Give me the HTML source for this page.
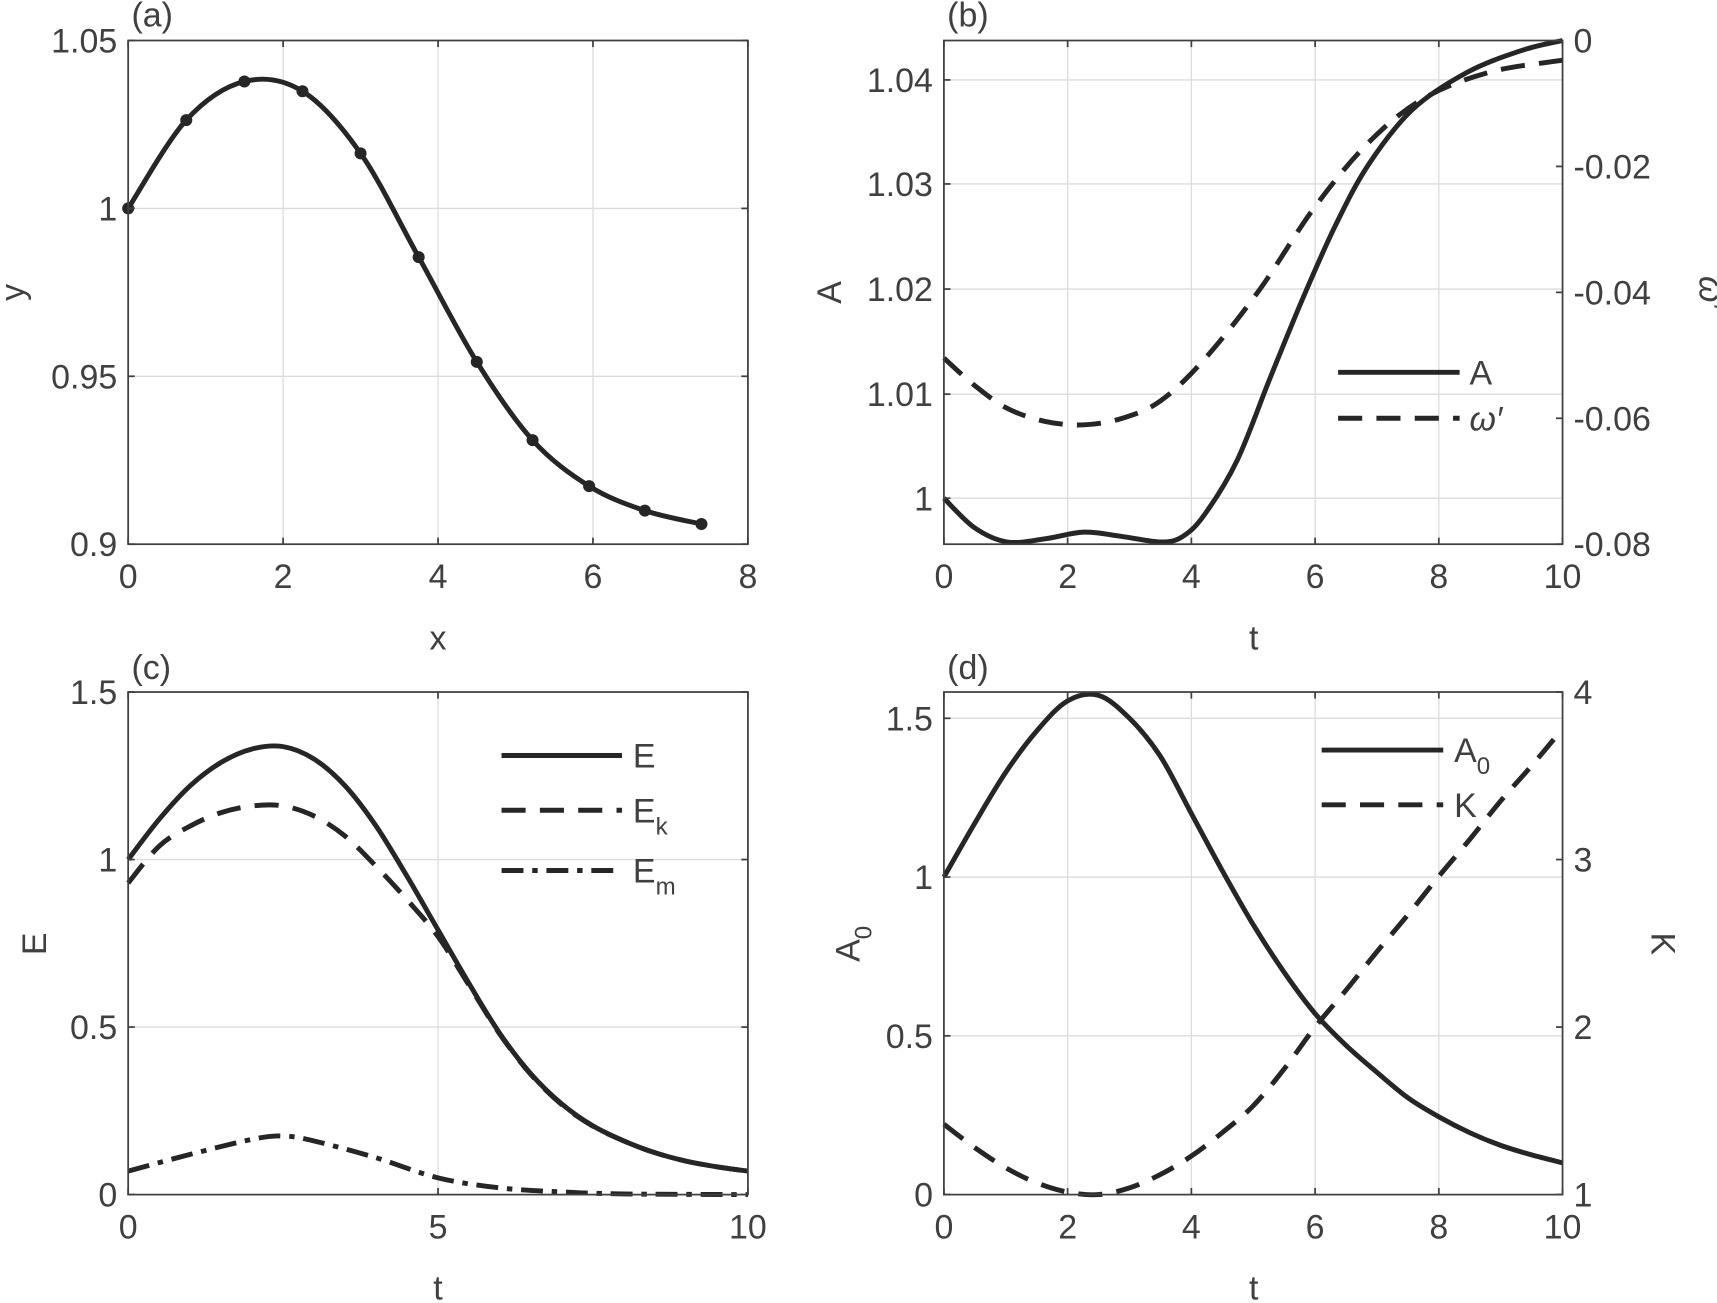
<!DOCTYPE html>
<html><head><meta charset="utf-8"><style>
html,body{margin:0;padding:0;background:#fff}
svg{display:block}
text{font-family:"Liberation Sans",sans-serif;fill:#404040}
</style></head><body>
<svg id="s" width="1717" height="1303" viewBox="0 0 1568 1190" xmlns="http://www.w3.org/2000/svg">
<g id="grid" stroke="#dcdcdc" stroke-width="1.2"></g>
<g id="curves" fill="none" stroke="#262626" stroke-width="4.5"></g>
<g id="axes" fill="none" stroke="#404040" stroke-width="1.6"></g>
<g id="txt" font-size="31"></g>
</svg>
<script>
const NS="http://www.w3.org/2000/svg";
function el(p,t,a,txt){const e=document.createElementNS(NS,t);for(const k in a)e.setAttribute(k,a[k]);if(txt!==undefined)e.textContent=txt;document.getElementById(p).appendChild(e);return e;}
function smooth(pts){let d="M"+pts[0][0]+","+pts[0][1];for(let i=0;i<pts.length-1;i++){const p0=pts[i-1]||pts[i],p1=pts[i],p2=pts[i+1],p3=pts[i+2]||p2;
const c1=[p1[0]+(p2[0]-p0[0])/6,p1[1]+(p2[1]-p0[1])/6],c2=[p2[0]-(p3[0]-p1[0])/6,p2[1]-(p3[1]-p1[1])/6];
d+=` C${c1[0]},${c1[1]} ${c2[0]},${c2[1]} ${p2[0]},${p2[1]}`;}return d;}
function txt(x,y,s,anchor,extra){const a={x:x,y:y,"text-anchor":anchor||"middle"};Object.assign(a,extra||{});return el("txt","text",a,s);}
function sub(t,s){t.appendChild(el("txt","tspan",{"font-size":"22",dy:"11"},s));}
function panel(L,R,T,B,xt,yt,yt2){
 xt.forEach(([x,l])=>{el("grid","line",{x1:x,x2:x,y1:T,y2:B});el("axes","line",{x1:x,x2:x,y1:B,y2:B-6});el("axes","line",{x1:x,x2:x,y1:T,y2:T+6});txt(x,B+40,l);});
 yt.forEach(([y,l])=>{el("grid","line",{x1:L,x2:R,y1:y,y2:y});el("axes","line",{x1:L,x2:L+6,y1:y,y2:y});if(!yt2)el("axes","line",{x1:R,x2:R-6,y1:y,y2:y});txt(L-10,y+11,l,"end");});
 if(yt2)yt2.forEach(([y,l])=>{el("axes","line",{x1:R,x2:R-6,y1:y,y2:y});txt(R+10,y+11,l,"start");});
 el("axes","rect",{x:L,y:T,width:R-L,height:B-T});
}
// Panel a
const aL=117,aR=683,aT=37,aB=497;
const ax=x=>aL+(aR-aL)*x/8, ay=y=>aB-(aB-aT)*(y-0.9)/0.15;
panel(aL,aR,aT,aB,[0,2,4,6,8].map(v=>[ax(v),v]),[[ay(1.05),"1.05"],[ay(1),"1"],[ay(0.95),"0.95"],[ay(0.9),"0.9"]]);
const apts=[[0,1.0],[0.75,1.0263],[1.5,1.0378],[2.25,1.0349],[3,1.0164],[3.75,0.9855],[4.5,0.9543],[5.22,0.9310],[5.95,0.9173],[6.67,0.9100],[7.4,0.9060]];
el("curves","path",{d:smooth(apts.map(p=>[ax(p[0]),ay(p[1])]))});
apts.forEach(p=>el("curves","circle",{cx:ax(p[0]),cy:ay(p[1]),r:5.5,fill:"#262626",stroke:"none"}));
txt(120,24,"(a)","start",{fill:"#262626"});
txt(400,593,"x");
txt(22,267,"y","middle",{transform:"rotate(-90 22 267)"});
// Panel b
const bL=862,bR=1427,bT=37,bB=497;
const bx=t=>bL+(bR-bL)*t/10;
panel(bL,bR,bT,bB,[0,2,4,6,8,10].map(v=>[bx(v),v]),[[455,"1"],[360,"1.01"],[264,"1.02"],[168,"1.03"],[73,"1.04"]],[[37,"0"],[152,"-0.02"],[267,"-0.04"],[382,"-0.06"],[497,"-0.08"]]);
el("curves","path",{d:smooth([[862,455],[890,482],[920,495],[955,492],[990,486],[1025,490],[1060,495],[1080,490],[1100,470],[1130,420],[1160,345],[1190,272],[1220,205],[1250,150],[1290,100],[1340,66],[1390,46],[1427,37]])});
el("curves","path",{d:smooth([[862,327],[890,352],[920,373],[955,385],[990,388],[1025,382],[1060,366],[1100,328],[1150,265],[1200,190],[1250,130],[1300,90],[1360,66],[1427,55]]),"stroke-dasharray":"22,13"});
el("curves","line",{x1:1222,x2:1333,y1:340,y2:340});
el("curves","line",{x1:1222,x2:1333,y1:382,y2:382,"stroke-dasharray":"22,13"});
txt(1342,351,"A","start");
txt(1342,393,"ω′","start",{"font-style":"italic"});
txt(865,24,"(b)","start",{fill:"#262626"});
txt(1145,593,"t");
txt(768,267,"A","middle",{transform:"rotate(-90 768 267)"});
txt(1552,267,"ω′","middle",{transform:"rotate(90 1552 267)","font-style":"italic"});
// Panel c
const cL=117,cR=683,cT=632,cB=1091;
const cx=t=>cL+(cR-cL)*t/10, cy=v=>cB-(cB-cT)*v/1.5;
panel(cL,cR,cT,cB,[[cx(0),0],[cx(5),5],[cx(10),10]],[[cy(1.5),"1.5"],[cy(1),"1"],[cy(0.5),"0.5"],[cy(0),"0"]]);
const E=[[0,1.0],[0.5,1.12],[1,1.22],[1.5,1.29],[2,1.33],[2.5,1.337],[3,1.30],[3.5,1.22],[4,1.10],[4.5,0.95],[5,0.79],[5.5,0.63],[6,0.48],[6.5,0.36],[7,0.27],[7.5,0.205],[8,0.16],[8.5,0.125],[9,0.1],[9.5,0.083],[10,0.07]];
const Ek=[[0,0.93],[0.5,1.04],[1,1.10],[1.5,1.14],[2,1.16],[2.5,1.16],[3,1.13],[3.5,1.07],[4,0.98],[4.5,0.88],[5,0.77],[5.5,0.625],[6,0.478],[6.5,0.358],[7,0.268],[7.5,0.204],[8,0.16],[8.5,0.125],[9,0.1],[9.5,0.083],[10,0.07]];
const Em=[[0,0.07],[1,0.12],[2,0.165],[2.5,0.175],[3,0.16],[4,0.11],[5,0.05],[6,0.02],[7,0.008],[8,0.002],[10,0]];
const cm=a=>a.map(p=>[cx(p[0]),cy(p[1])]);
el("curves","path",{d:smooth(cm(E))});
el("curves","path",{d:smooth(cm(Ek)),"stroke-dasharray":"22,13"});
el("curves","path",{d:smooth(cm(Em)),"stroke-dasharray":"20,8,5,8"});
[[690,""],[740,"22,13"],[795,"20,8,5,8"]].forEach(([y,d])=>{const a={x1:458,x2:568,y1:y,y2:y};if(d)a["stroke-dasharray"]=d;el("curves","line",a);});
txt(578,701,"E","start");
sub(txt(578,751,"E","start"),"k");
sub(txt(578,806,"E","start"),"m");
txt(120,620,"(c)","start",{fill:"#262626"});
txt(400,1187,"t");
txt(42,862,"E","middle",{transform:"rotate(-90 42 862)"});
// Panel d
const dL=862,dR=1427,dT=632,dB=1091;
const dx=t=>dL+(dR-dL)*t/10, dy=v=>dB-290*v, ky=k=>dB-(dB-dT)*(k-1)/3;
panel(dL,dR,dT,dB,[0,2,4,6,8,10].map(v=>[dx(v),v]),[[dy(1.5),"1.5"],[dy(1),"1"],[dy(0.5),"0.5"],[dy(0),"0"]],[[ky(4),"4"],[ky(3),"3"],[ky(2),"2"],[ky(1),"1"]]);
const A0=[[0,1.0],[0.5,1.17],[1,1.33],[1.5,1.46],[2,1.555],[2.5,1.572],[3,1.50],[3.5,1.38],[4,1.20],[4.5,1.02],[5,0.85],[5.5,0.70],[6,0.57],[6.5,0.47],[7,0.385],[7.5,0.305],[8,0.245],[8.5,0.195],[9,0.155],[9.5,0.125],[10,0.1]];
const K=[[0,1.42],[0.5,1.28],[1,1.16],[1.5,1.07],[2,1.015],[2.5,1.0],[3,1.04],[3.5,1.12],[4,1.23],[4.5,1.37],[5,1.53],[5.5,1.75],[6,2.0],[6.5,2.22],[7,2.45],[7.5,2.67],[8,2.9],[8.5,3.12],[9,3.35],[9.5,3.56],[10,3.78]];
el("curves","path",{d:smooth(A0.map(p=>[dx(p[0]),dy(p[1])]))});
el("curves","path",{d:smooth(K.map(p=>[dx(p[0]),ky(p[1])])),"stroke-dasharray":"22,13"});
el("curves","line",{x1:1207,x2:1318,y1:685,y2:685});
el("curves","line",{x1:1207,x2:1318,y1:735,y2:735,"stroke-dasharray":"22,13"});
sub(txt(1328,696,"A","start"),"0");
txt(1328,746,"K","start");
txt(865,620,"(d)","start",{fill:"#262626"});
txt(1145,1187,"t");
sub(txt(785,862,"A","middle",{transform:"rotate(-90 785 862)"}),"0");
txt(1508,862,"K","middle",{transform:"rotate(90 1508 862)"});
</script>
</body></html>
